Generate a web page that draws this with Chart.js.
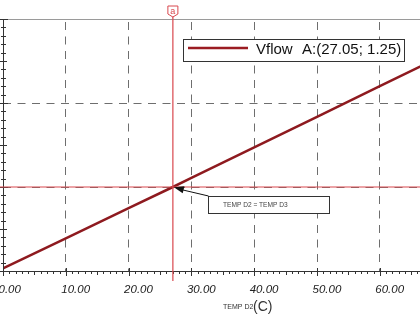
<!DOCTYPE html>
<html>
<head>
<meta charset="utf-8">
<script src="https://cdn.jsdelivr.net/npm/chart.js@4.4.0/dist/chart.umd.min.js"></script>
<style>
  body { margin: 0; background: #ffffff; }
  canvas { display: block; }
</style>
</head>
<body>
<canvas id="grafico" width="420" height="320"></canvas>
<script>
// dados
const tempD2 = [0, 10, 20, 27.05, 30, 40, 50, 60, 70]
const vflow = [1.008, 1.097, 1.187, 1.25, 1.277, 1.368, 1.459, 1.550, 1.641]
const xTicks = [0, 10, 20, 30, 40, 50, 60]
const yTicks = [1.0, 1.25, 1.5, 1.75]
const cursorX = 27.05
const cursorY = 1.25
const serieNome = "Vflow"
const notaTexto = "TEMP D2 = TEMP D3"

const pontos = tempD2.map((t, i) => ({ x: t, y: vflow[i] }))

const extras = {
    id: 'extras',
    afterDatasetsDraw(chart) {
        const ctx = chart.ctx
        const x = chart.scales.x
        const y = chart.scales.y
        const area = chart.chartArea
        ctx.save()

        // borda superior
        ctx.strokeStyle = '#9a9a9a'
        ctx.lineWidth = 1
        ctx.beginPath()
        ctx.moveTo(0, area.top + 0.5)
        ctx.lineTo(420, area.top + 0.5)
        ctx.stroke()

        // eixos
        ctx.strokeStyle = '#333333'
        ctx.beginPath()
        ctx.moveTo(0, area.bottom + 0.5)
        ctx.lineTo(420, area.bottom + 0.5)
        ctx.moveTo(area.left + 0.5, area.top)
        ctx.lineTo(area.left + 0.5, area.bottom)
        ctx.stroke()

        // ticks eixo x
        ctx.beginPath()
        for (let v = 0; v <= 66; v++) {
            const px = Math.round(x.getPixelForValue(v)) + 0.5
            if (v % 10 === 0) {
                ctx.moveTo(px, area.bottom - 3)
                ctx.lineTo(px, area.bottom + 5)
            } else if (v % 5 === 0) {
                ctx.moveTo(px, area.bottom)
                ctx.lineTo(px, area.bottom + 4)
            } else {
                ctx.moveTo(px, area.bottom)
                ctx.lineTo(px, area.bottom + 3)
            }
        }
        // ticks eixo y
        for (let k = 0; k <= 30; k++) {
            const v = 1.0 + k * 0.025
            const py = Math.round(y.getPixelForValue(v)) + 0.5
            if (k % 10 === 0) {
                ctx.moveTo(0, py)
                ctx.lineTo(area.left + 5, py)
            } else if (k % 5 === 0) {
                ctx.moveTo(0, py)
                ctx.lineTo(area.left + 4, py)
            } else {
                ctx.moveTo(area.left - 2, py)
                ctx.lineTo(area.left + 3, py)
            }
        }
        ctx.stroke()

        // cursor
        const cx = x.getPixelForValue(cursorX)
        const cy = y.getPixelForValue(cursorY)
        ctx.strokeStyle = '#d9484f'
        ctx.lineWidth = 1.2
        ctx.beginPath()
        ctx.moveTo(cx, 16)
        ctx.lineTo(cx, 281)
        ctx.moveTo(0, cy)
        ctx.lineTo(420, cy)
        ctx.stroke()

        // marcador "a"
        ctx.fillStyle = '#ffffff'
        ctx.beginPath()
        ctx.moveTo(cx - 5, 6)
        ctx.lineTo(cx + 5, 6)
        ctx.lineTo(cx + 5, 14)
        ctx.lineTo(cx, 17)
        ctx.lineTo(cx - 5, 14)
        ctx.closePath()
        ctx.fill()
        ctx.lineWidth = 1
        ctx.stroke()
        ctx.fillStyle = '#d9484f'
        ctx.font = '9px "Liberation Sans", Arial, sans-serif'
        ctx.textAlign = 'center'
        ctx.textBaseline = 'alphabetic'
        ctx.fillText('a', cx, 14)

        // legenda
        ctx.fillStyle = '#ffffff'
        ctx.fillRect(183.5, 39.5, 221, 22)
        ctx.strokeStyle = '#333333'
        ctx.lineWidth = 1
        ctx.strokeRect(183.5, 39.5, 221, 22)
        ctx.strokeStyle = '#9b1c22'
        ctx.lineWidth = 2.5
        ctx.beginPath()
        ctx.moveTo(188, 48)
        ctx.lineTo(248, 48)
        ctx.stroke()
        ctx.fillStyle = '#111111'
        ctx.font = '15px "Liberation Sans", Arial, sans-serif'
        ctx.textAlign = 'left'
        ctx.fillText(serieNome, 256, 54)
        ctx.fillText('A:(' + cursorX.toFixed(2) + '; ' + cursorY.toFixed(2) + ')', 302, 54)

        // nota com seta
        ctx.fillStyle = '#ffffff'
        ctx.fillRect(208.5, 196.5, 121, 17)
        ctx.strokeStyle = '#333333'
        ctx.lineWidth = 1
        ctx.strokeRect(208.5, 196.5, 121, 17)
        ctx.fillStyle = '#444444'
        ctx.font = '6.6px "Liberation Sans", Arial, sans-serif'
        ctx.textBaseline = 'middle'
        ctx.fillText(notaTexto, 223, 205)

        ctx.strokeStyle = '#111111'
        ctx.beginPath()
        ctx.moveTo(208.5, 196)
        ctx.lineTo(cx + 8, cy + 2.5)
        ctx.stroke()
        ctx.fillStyle = '#111111'
        const ang = Math.atan2(196 - cy, 208.5 - cx)
        ctx.beginPath()
        ctx.moveTo(cx + 1, cy + 0.3)
        ctx.lineTo(cx + 1 + 10 * Math.cos(ang) - 3.5 * Math.sin(ang), cy + 0.3 + 10 * Math.sin(ang) + 3.5 * Math.cos(ang))
        ctx.lineTo(cx + 1 + 10 * Math.cos(ang) + 3.5 * Math.sin(ang), cy + 0.3 + 10 * Math.sin(ang) - 3.5 * Math.cos(ang))
        ctx.closePath()
        ctx.fill()

        // titulo eixo x
        ctx.fillStyle = '#333333'
        ctx.textBaseline = 'alphabetic'
        ctx.font = '7px "Liberation Sans", Arial, sans-serif'
        ctx.fillText('TEMP D2', 223, 309)
        ctx.font = '14px "Liberation Sans", Arial, sans-serif'
        ctx.fillText('(C)', 253, 311)

        ctx.restore()
    }
}

new Chart(document.getElementById("grafico"), {
    type: 'line',
    data: {
        datasets: [{
            label: serieNome,
            data: pontos,
            borderColor: '#8e1a1f',
            borderWidth: 2.5,
            pointRadius: 0,
            tension: 0
        }]
    },
    options: {
        responsive: false,
        animation: false,
        layout: {
            padding: { top: 19, left: 0, right: 0, bottom: 0 }
        },
        plugins: {
            legend: { display: false },
            tooltip: { enabled: false }
        },
        scales: {
            x: {
                type: 'linear',
                min: 0,
                max: 66.4,
                afterBuildTicks: (s) => { s.ticks = xTicks.map(v => ({ value: v })) },
                afterFit: (s) => {
                    s.height = 49
                    s.paddingLeft = 0
                    s.paddingRight = 0
                },
                grid: {
                    color: '#6e6e6e',
                    lineWidth: 1,
                    drawTicks: false
                },
                border: { display: false, dash: [8, 6.5], dashOffset: 11.5 },
                ticks: {
                    padding: 12,
                    align: 'start',
                    labelOffset: -4.5,
                    color: '#222222',
                    font: { family: '"Liberation Sans", Arial, sans-serif', size: 11.5, style: 'italic' },
                    callback: (v) => Number(v).toFixed(2)
                }
            },
            y: {
                min: 1.0,
                max: 1.75,
                afterBuildTicks: (s) => { s.ticks = yTicks.map(v => ({ value: v })) },
                afterFit: (s) => {
                    s.width = 3
                    s.paddingTop = 0
                    s.paddingBottom = 0
                },
                grid: {
                    color: '#6e6e6e',
                    lineWidth: 1,
                    drawTicks: false
                },
                border: { display: false, dash: [8, 6.5] },
                ticks: { display: false }
            }
        }
    },
    plugins: [extras]
});
</script>
</body>
</html>
